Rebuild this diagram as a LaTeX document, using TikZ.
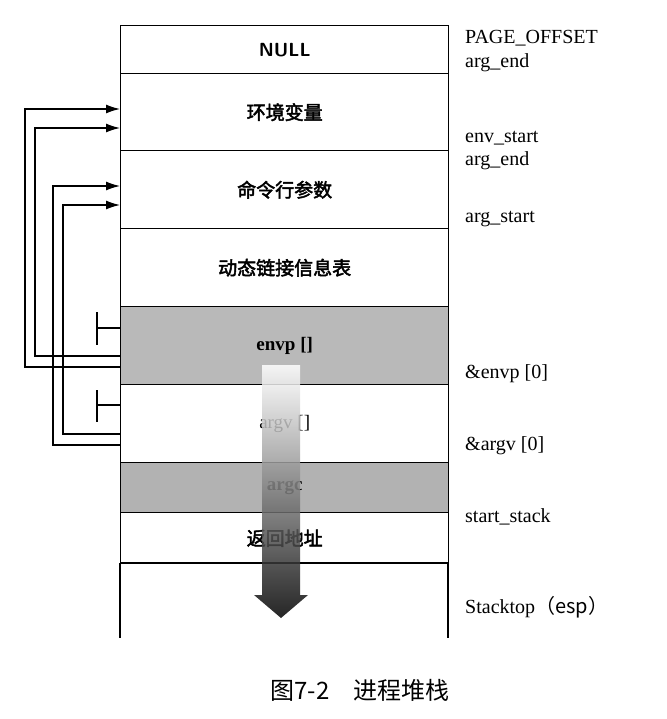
\documentclass[tikz,border=0pt]{standalone}
\usepackage{fontspec}
\setmainfont{Liberation Serif}
\newfontfamily\cjk[AutoFakeBold=2.5]{Noto Sans CJK SC}
\usetikzlibrary{arrows.meta,positioning}

\begin{document}
\begin{tikzpicture}[
    x=1pt, y=-1pt,
    font=\fontsize{19}{22}\selectfont,
    cell/.style={draw, line width=1.4pt, minimum width=328pt, anchor=north west, inner sep=0pt},
    lbl/.style={anchor=west, inner sep=0pt, font=\fontsize{20}{22}\selectfont},
    link/.style={line width=1.4pt, -{Latex[length=14pt,width=9pt]}},
    tbar/.style={line width=1.4pt}
  ]
  \useasboundingbox (0,0) rectangle (666,719);

  % --- Stack Cells ---
  \node[cell, minimum height=48pt] (null) at (120,25) {\sffamily\bfseries NULL};
  \node[cell, minimum height=77pt] (env) at (120,73) {\cjk\bfseries 环境变量};
  \node[cell, minimum height=78pt] (cmd) at (120,150) {\cjk\bfseries 命令行参数};
  \node[cell, minimum height=78pt] (dyn) at (120,228) {\cjk\bfseries 动态链接信息表};
  \node[cell, minimum height=78pt, fill=gray!55] (envp) at (120,306) {\bfseries envp []};
  \node[cell, minimum height=78pt] (argv) at (120,384) {argv []};
  \node[cell, minimum height=50pt, fill=gray!60] (argc) at (120,462) {\bfseries argc};
  \node[cell, minimum height=51pt] (ret) at (120,512) {\cjk\bfseries 返回地址};
  \draw[line width=1.4pt] (120,563) -- (448,563);
  \draw[line width=1.4pt] (120,563) -- (120,638) (448,563) -- (448,638);

  % --- Growth Arrow ---
  \shade[top color=white, bottom color=black, opacity=0.85]
    (262,365) -- (300,365) -- (300,595) -- (308,595) -- (281,618)
    -- (254,595) -- (262,595) -- cycle;

  % --- Pointers ---
  \coordinate (e1) at (120,109);
  \coordinate (e2) at (120,128);
  \coordinate (c1) at (120,186);
  \coordinate (c2) at (120,205);
  \draw[link] (120,367) -- (25,367) -- (25,109) -- (e1);
  \draw[link] (120,356) -- (35,356) -- (35,128) -- (e2);
  \draw[link] (120,445) -- (53,445) -- (53,186) -- (c1);
  \draw[link] (120,434) -- (63,434) -- (63,205) -- (c2);
  \draw[tbar] (120,328) -- (97,328) (97,312) -- (97,345);
  \draw[tbar] (120,405) -- (97,405) (97,390) -- (97,422);

  % --- Addresses ---
  \node[lbl] (po) at (465,38) {PAGE\_OFFSET};
  \node[lbl] (ae1) at (465,63) {arg\_end};
  \node[lbl] (es) at (465,138) {env\_start};
  \node[lbl] (ae2) at (465,161) {arg\_end};
  \node[lbl] (as) at (465,219) {arg\_start};
  \node[lbl] (ep) at (465,374) {\&envp [0]};
  \node[lbl] (av) at (465,446) {\&argv [0]};
  \node[lbl] (ss) at (465,517) {start\_stack};
  \node[lbl] (st) at (465,607) {Stacktop\cjk（esp）};

  % --- Caption ---
  \node[font=\fontsize{24}{28}\selectfont\cjk] (cap) at (360,690) {图7-2\quad 进程堆栈};
\end{tikzpicture}
\end{document}
